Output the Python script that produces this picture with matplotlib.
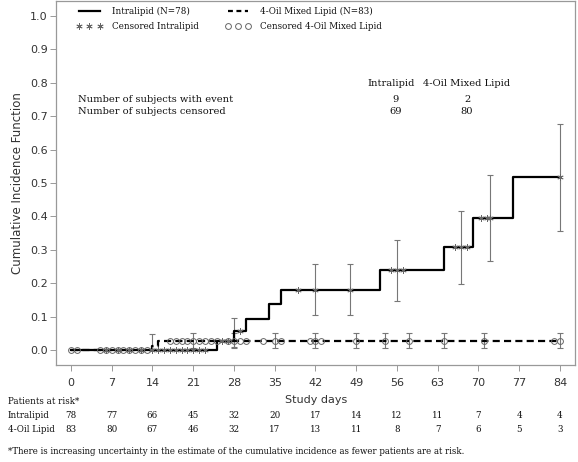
import numpy as np
import matplotlib
matplotlib.use("Agg")
import matplotlib.pyplot as plt
import matplotlib.transforms as mtransforms
from matplotlib.lines import Line2D

# ---------------- data ----------------
day_ticks = [0, 7, 14, 21, 28, 35, 42, 49, 56, 63, 70, 77, 84]
y_ticks = [0.0, 0.1, 0.2, 0.3, 0.4, 0.5, 0.6, 0.7, 0.8, 0.9, 1.0]

# Cumulative incidence step functions (time, value after step)
intra_t = [0, 25, 28, 30, 34, 36, 53, 64, 69, 76, 84]
intra_cif = [0.0, 0.027, 0.057, 0.094, 0.139, 0.180, 0.239, 0.307, 0.394, 0.517, 0.517]
oil_t = [0, 14, 15, 84]
oil_cif = [0.0, 0.013, 0.028, 0.028]

# Censoring times
intra_cens_t = [6, 8, 10, 12, 14, 15, 16, 17, 18, 19, 20, 21, 22, 23, 26, 27, 29,
                39, 42, 48, 55, 56, 57, 66, 67, 68, 70.5, 71.5, 72, 84]
oil_cens_t = [0, 1, 5, 6, 7, 8, 9, 10, 11, 12, 13, 17, 18, 19, 20, 21, 22, 23,
              24, 25, 27, 28, 29, 30, 33, 35, 36, 41, 42, 43, 49, 54, 58, 64,
              71, 83, 84]

# Confidence limits
intra_err_t = [28, 42, 48, 56, 67, 72, 84]
intra_lo = [0.010, 0.104, 0.104, 0.146, 0.199, 0.266, 0.357]
intra_hi = [0.097, 0.257, 0.257, 0.330, 0.417, 0.523, 0.676]
oil_err_t = [14, 21, 28, 35, 42, 49, 54, 58, 64, 71, 84]
oil_lo = [0.002, 0.007, 0.007, 0.007, 0.007, 0.007, 0.007, 0.007, 0.007, 0.007, 0.007]
oil_hi = [0.047, 0.052, 0.052, 0.052, 0.052, 0.052, 0.052, 0.052, 0.052, 0.052, 0.052]

groups = ["Intralipid", "4-Oil Mixed Lipid"]
n_event = [9, 2]
n_cens = [69, 80]

risk_labels = ["Intralipid", "4-Oil Lipid"]
risk_intra = [78, 77, 66, 45, 32, 20, 17, 14, 12, 11, 7, 4, 4]
risk_oil = [83, 80, 67, 46, 32, 17, 13, 11, 8, 7, 6, 5, 3]


def step_value(ts, vs, t):
    idx = np.searchsorted(np.asarray(ts), np.asarray(t, dtype=float), side="right") - 1
    return np.asarray(vs)[idx]


# ---------------- figure ----------------
W, H = 578, 462
fig = plt.figure(figsize=(W / 100, H / 100), dpi=100)
ax = fig.add_axes([56 / W, 1 - 365 / H, (575 - 56) / W, (365 - 1) / H])

serif = "DejaVu Serif"
sans = "DejaVu Sans"
gray = "#777777"
txt = "#111111"

dash = (0, (3.2, 1.9))
ax.step(oil_t, oil_cif, where="post", color="black", lw=1.6, ls=dash, zorder=3)
ax.step(intra_t, intra_cif, where="post", color="black", lw=1.6, zorder=4)

# error bars
iy = step_value(intra_t, intra_cif, intra_err_t)
ax.errorbar(intra_err_t, iy, yerr=[iy - np.array(intra_lo), np.array(intra_hi) - iy],
            fmt="none", ecolor=gray, elinewidth=0.8, capsize=2.5, capthick=0.8, zorder=2)
oy = step_value(oil_t, oil_cif, oil_err_t)
ax.errorbar(oil_err_t, oy, yerr=[oy - np.array(oil_lo), np.array(oil_hi) - oy],
            fmt="none", ecolor=gray, elinewidth=0.8, capsize=2.5, capthick=0.8, zorder=2)

# censored markers
ax.plot(oil_cens_t, step_value(oil_t, oil_cif, oil_cens_t), ls="none", marker="o",
        ms=4.2, mfc="none", mec="#666666", mew=0.7, zorder=5)
ax.plot(intra_cens_t, step_value(intra_t, intra_cif, intra_cens_t), ls="none",
        marker=(6, 2, 0), ms=4.5, color="#666666", mew=0.6, zorder=6)

ax.set_xlim(-2.577, 86.58)
ax.set_ylim(-0.0449, 1.0449)
ax.set_xticks(day_ticks)
ax.set_yticks(y_ticks)
ax.set_yticklabels([f"{v:.1f}" for v in y_ticks])
for sp in ax.spines.values():
    sp.set_color("#999999")
    sp.set_linewidth(0.9)
ax.tick_params(axis="both", direction="out", length=4, width=0.7, color="#999999",
               labelsize=8, labelcolor="#333333")
ax.tick_params(axis="x", pad=5)
ax.tick_params(axis="y", pad=2)
for lab in ax.get_xticklabels() + ax.get_yticklabels():
    lab.set_family(sans)
ax.set_ylabel("Cumulative Incidence Function", family=sans, fontsize=8.5, color="#333333",
              labelpad=4)

# legend
handles = [
    Line2D([], [], color="black", lw=1.6),
    Line2D([], [], ls="none", marker=(6, 2, 0), ms=4.5, color="#666666", mew=0.6),
    Line2D([], [], color="black", lw=1.6, ls=(0, (2.2, 1.6))),
    Line2D([], [], ls="none", marker="o", ms=4.2, mfc="none", mec="#666666", mew=0.7),
]
labels = ["Intralipid (N=78)", "Censored Intralipid",
          "4-Oil Mixed Lipid (N=83)", "Censored 4-Oil Mixed Lipid"]
leg = ax.legend(handles, labels, ncol=2, numpoints=3, loc="upper left",
                bbox_to_anchor=(0.04, 0.985), frameon=False, borderpad=0,
                borderaxespad=0, handlelength=2.9, handletextpad=1.1,
                columnspacing=3.0, labelspacing=0.75,
                prop={"family": serif, "size": 6.3})
for t in leg.get_texts():
    t.set_color(txt)

# stats table
def fpx(x, y):
    return x / W, 1 - y / H

fs_stat = 7.1
fig.text(*fpx(391, 84), groups[0], ha="center", va="center", family=serif, fontsize=fs_stat, color=txt)
fig.text(*fpx(467, 84), groups[1], ha="center", va="center", family=serif, fontsize=fs_stat, color=txt)
fig.text(*fpx(78, 99), "Number of subjects with event", ha="left", va="center", family=serif, fontsize=fs_stat, color=txt)
fig.text(*fpx(78, 112), "Number of subjects censored", ha="left", va="center", family=serif, fontsize=fs_stat, color=txt)
fig.text(*fpx(396, 99), str(n_event[0]), ha="center", va="center", family=serif, fontsize=fs_stat, color=txt)
fig.text(*fpx(467, 99), str(n_event[1]), ha="center", va="center", family=serif, fontsize=fs_stat, color=txt)
fig.text(*fpx(396, 112), str(n_cens[0]), ha="center", va="center", family=serif, fontsize=fs_stat, color=txt)
fig.text(*fpx(467, 112), str(n_cens[1]), ha="center", va="center", family=serif, fontsize=fs_stat, color=txt)

# x label & at-risk table
fig.text(*fpx(316, 400), "Study days", ha="center", va="center", family=sans, fontsize=8, color="#333333")
fig.text(*fpx(8, 401), "Patients at risk*", ha="left", va="center", family=serif, fontsize=6.3, color=txt)
blend = mtransforms.blended_transform_factory(ax.transData, fig.transFigure)
fs_risk = 6.3
for row_y, lab, vals in [(416, risk_labels[0], risk_intra), (430, risk_labels[1], risk_oil)]:
    fig.text(*fpx(8, row_y), lab, ha="left", va="center", family=serif, fontsize=fs_risk, color=txt)
    for d, v in zip(day_ticks, vals):
        ax.text(d, 1 - row_y / H, str(v), transform=blend, ha="center", va="center",
                family=serif, fontsize=fs_risk, color=txt, clip_on=False)

fig.text(*fpx(8, 451), "*There is increasing uncertainty in the estimate of the cumulative incidence as fewer patients are at risk.",
         ha="left", va="center", family=serif, fontsize=6.2, color=txt)

fig.savefig("out.png", dpi=100)
